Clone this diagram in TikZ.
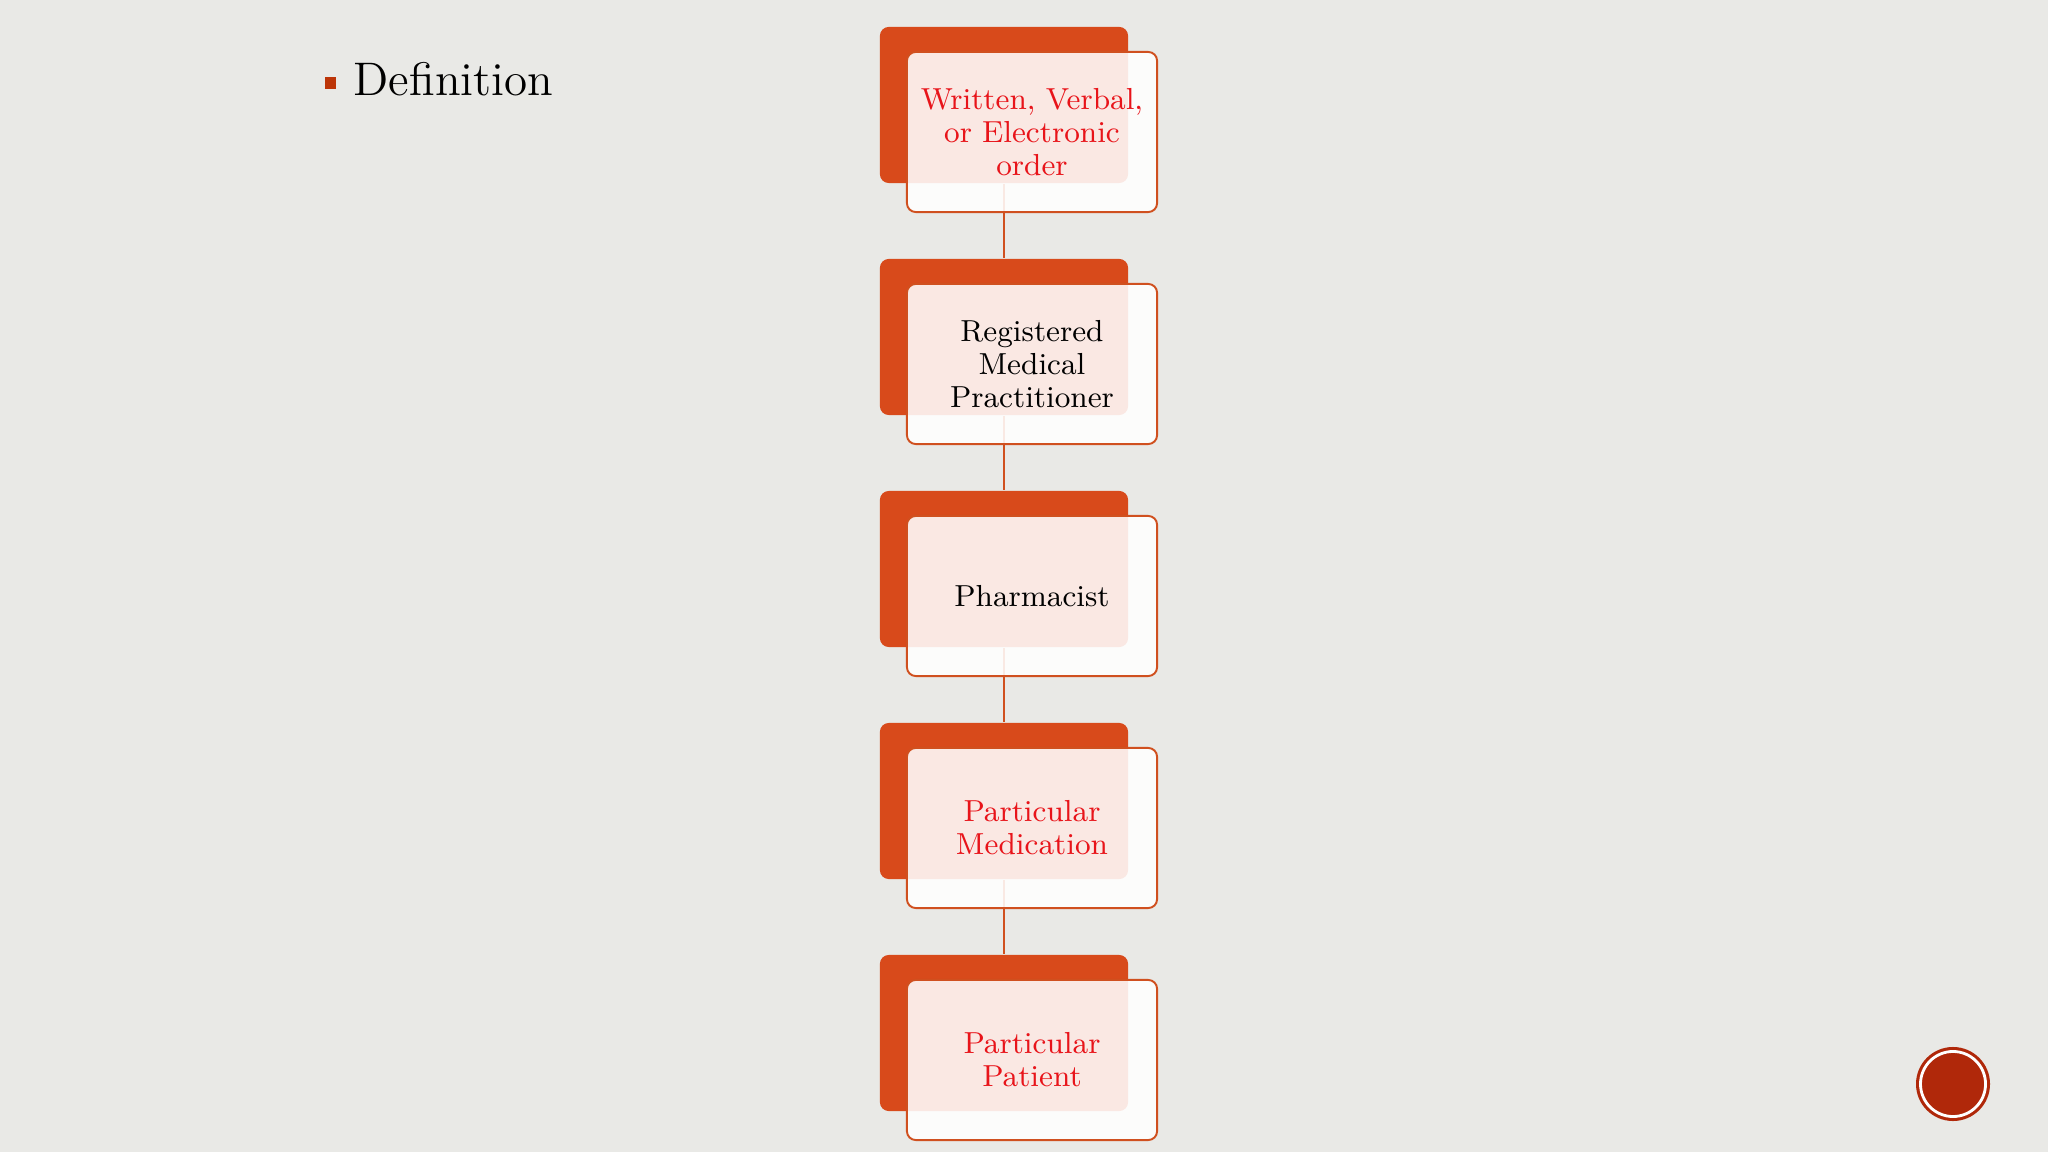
\documentclass[tikz,border=0pt]{standalone}
\usepackage{tikz}
\usetikzlibrary{positioning}
\definecolor{slidebg}{HTML}{E9E9E6}
\definecolor{backorange}{HTML}{D84A1B}
\definecolor{edgeorange}{HTML}{D0501F}
\definecolor{textred}{HTML}{E8141A}
\definecolor{dotred}{HTML}{B0280A}
\tikzset{backbox/.style={
    fill=backorange, rounded corners=2.5pt, inner sep=0pt,
    minimum width=2.48cm, minimum height=1.56cm
  },
  frontbox/.style={
    draw=edgeorange, line width=0.55pt, fill=white, fill opacity=0.88,
    text opacity=1, rounded corners=2.5pt, inner sep=0pt,
    minimum width=2.5cm, minimum height=1.6cm, align=center,
    text width=2.3cm, font=\fontsize{8.65}{9.4}\selectfont
  },
  link/.style={draw=edgeorange, line width=0.4pt}
}

\begin{document}
\begin{tikzpicture}[x=0.01cm, y=-0.01cm]
      \fill[slidebg] (0,0) rectangle (2048,1152);
      \useasboundingbox (0,0) rectangle (2048,1152);
      % title
      \fill[dotred!85!orange] (325,77) rectangle (336,89);
      \node[anchor=base west, inner sep=0pt, font=\fontsize{13.4}{15}\selectfont] (defn) at (353,96) {Definition};
      % chain of boxes
      \foreach \i in {1,...,5}
        \node[backbox] (b\i) at (1004,{105+232*(\i-1)}) {};
      \foreach \i [evaluate=\i as \j using int(\i+1)] in {1,...,4}
        \draw[link] (b\i.south) -- (b\j.north);
      \foreach \i/\txt/\col in {1/{Written, Verbal,\\or Electronic\\order}/textred,
                                2/{Registered\\Medical\\Practitioner}/black,
                                3/{Pharmacist}/black,
                                4/{Particular\\Medication}/textred,
                                5/{Particular\\Patient}/textred}
        \node[frontbox, text=\col] (f\i) at (1032,{132+232*(\i-1)}) {\txt};
      % slide number dot
      \node[circle, fill=dotred, minimum size=0.74cm, inner sep=0pt] (dot) at (1953,1084) {};
      \draw[white, line width=0.8pt] (dot.center) circle (0.325cm);
    \end{tikzpicture}
\end{document}
